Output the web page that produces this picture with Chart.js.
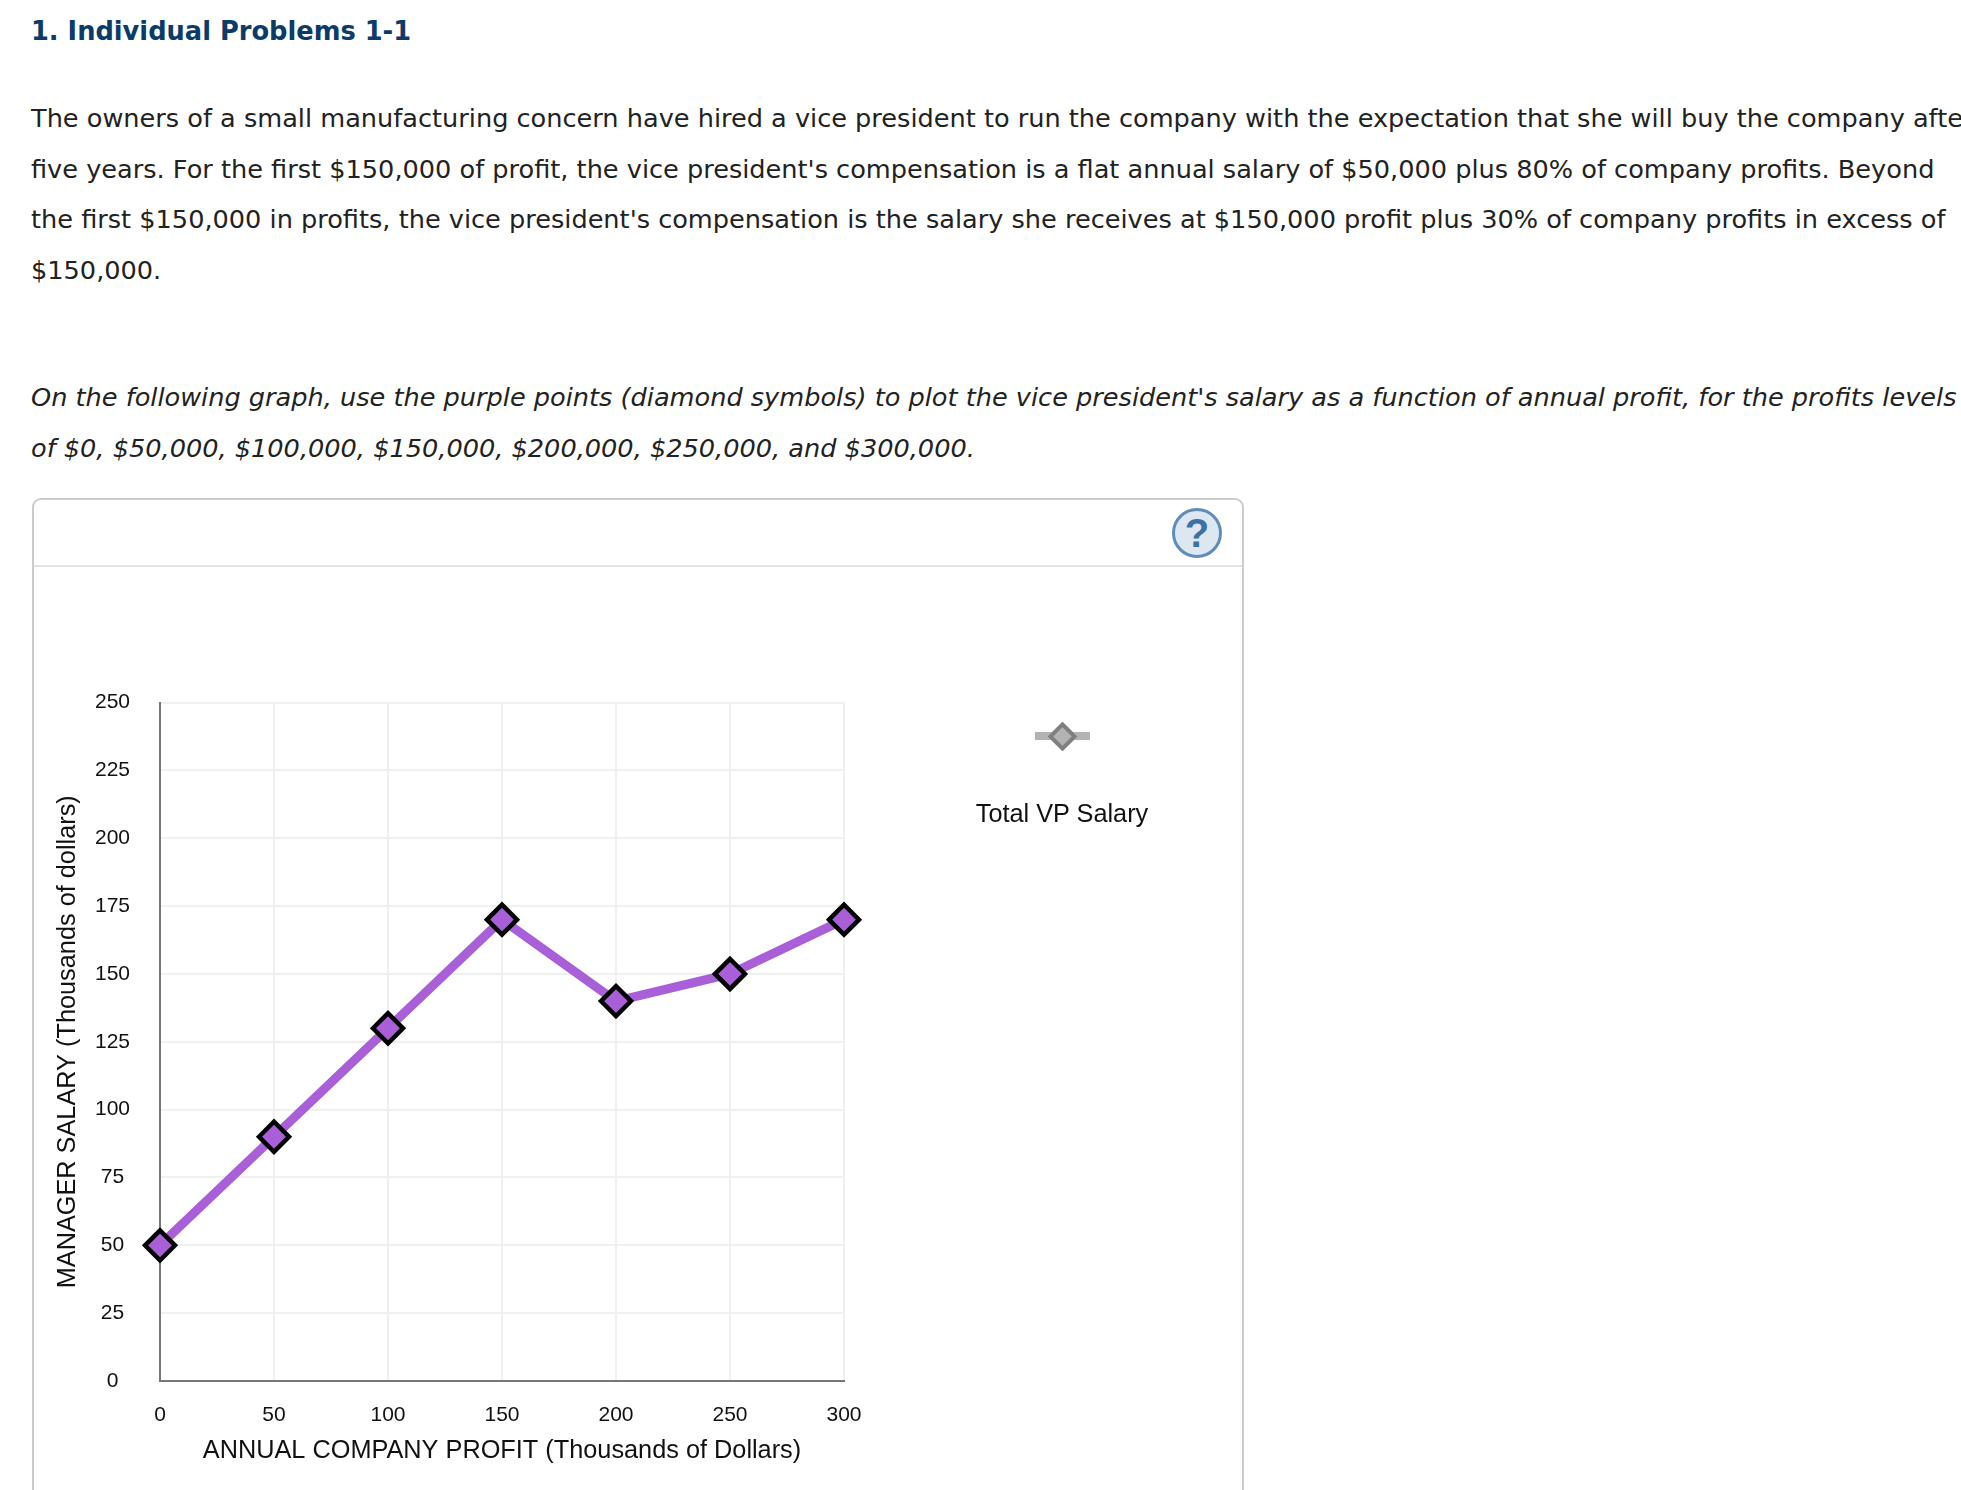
<!DOCTYPE html>
<html>
<head>
<meta charset="utf-8">
<script src="https://cdn.jsdelivr.net/npm/chart.js@4"></script>
<style>
  html, body { margin: 0; background: #fff; width: 1961px; height: 1490px; overflow: hidden; }
  .line { position: absolute; left: 31px; white-space: nowrap; font-family: "DejaVu Sans", sans-serif; font-size: 25.6px; color: #222; line-height: 30px; }
  .line.it { font-style: italic; }
  #heading { font-weight: bold; color: #0b3b68; font-size: 25.7px; }
  #panel { position: absolute; left: 32px; top: 498px; width: 1212px; height: 1100px; border: 2px solid #ccc; border-radius: 9px; box-sizing: border-box; }
  #headerRule { position: absolute; left: 34px; top: 565px; width: 1208px; height: 2px; background: #e4e4e4; }
  #help { position: absolute; left: 1172px; top: 508px; width: 50px; height: 50px; box-sizing: border-box; border: 3px solid #5f8db8; border-radius: 50%; background: #dde7f1; color: #3d70a6; font: bold 40px/44px "Liberation Sans", sans-serif; text-align: center; }
  #chartBox { position: absolute; left: 40px; top: 660px; }
  #legendBar { position: absolute; left: 1035px; top: 732px; width: 55px; height: 8px; background: #b3b3b3; }
  #legendMark { position: absolute; left: 1052px; top: 726px; width: 21px; height: 21px; box-sizing: border-box; background: #b3b3b3; border: 4px solid #808080; transform: rotate(45deg); }
  #legendText { position: absolute; left: 912px; top: 798px; width: 300px; text-align: center; font: 25.3px/30px "Liberation Sans", sans-serif; color: #111; }
</style>
</head>
<body>
<div class="line" id="heading" style="top:16px">1. Individual Problems 1-1</div>
<div class="line" style="top:103px">The owners of a small manufacturing concern have hired a vice president to run the company with the expectation that she will buy the company after</div>
<div class="line" style="top:154px">five years. For the first $150,000 of profit, the vice president's compensation is a flat annual salary of $50,000 plus 80% of company profits. Beyond</div>
<div class="line" style="top:204px">the first $150,000 in profits, the vice president's compensation is the salary she receives at $150,000 profit plus 30% of company profits in excess of</div>
<div class="line" style="top:255px">$150,000.</div>
<div class="line it" style="top:382px">On the following graph, use the purple points (diamond symbols) to plot the vice president's salary as a function of annual profit, for the profits levels</div>
<div class="line it" style="top:433px">of $0, $50,000, $100,000, $150,000, $200,000, $250,000, and $300,000.</div>

<div id="panel"></div>
<div id="headerRule"></div>
<div id="help">?</div>

<div id="chartBox"><canvas id="myChart" width="900" height="806"></canvas></div>

<div id="legendBar"></div>
<div id="legendMark"></div>
<div id="legendText">Total VP Salary</div>

<script>
const profits = [0, 50, 100, 150, 200, 250, 300];
const salaries = [50, 90, 130, 170, 140, 150, 170];
const xTicks = [0, 50, 100, 150, 200, 250, 300];
const yTicks = [0, 25, 50, 75, 100, 125, 150, 175, 200, 225, 250];
const seriesName = 'Total VP Salary';
const xTitle = 'ANNUAL COMPANY PROFIT (Thousands of Dollars)';
const yTitle = 'MANAGER SALARY (Thousands of dollars)';

const tickFont = { family: "'Liberation Sans', sans-serif", size: 21 };
const titleFont = { family: "'Liberation Sans', sans-serif", size: 25.3 };

// Canvas sits at (40, 660), plot area should land on x 160-844, y 695-1381
new Chart(document.getElementById('myChart').getContext('2d'), {
  type: 'line',
  data: {
    datasets: [{
      label: seriesName,
      data: profits.map((p, i) => ({ x: p, y: salaries[i] })),
      borderColor: '#a95fd8',
      borderWidth: 9,
      backgroundColor: '#a95fd8',
      pointStyle: 'rectRot',
      pointRadius: 15,
      pointBorderWidth: 4.5,
      pointBorderColor: '#000',
      pointBackgroundColor: '#a95fd8',
      tension: 0,
      clip: false
    }]
  },
  options: {
    responsive: false,
    animation: false,
    layout: { padding: { left: 0, top: 29, right: 96, bottom: 0 } },
    plugins: { legend: { display: false }, tooltip: { enabled: false } },
    scales: {
      x: {
        type: 'linear',
        min: 0,
        max: 300,
        afterBuildTicks: (axis) => { axis.ticks = xTicks.map((v) => ({ value: v })); },
        afterFit: (axis) => { axis.height = 85; },
        grid: { color: '#f0f0f0', lineWidth: 2, drawTicks: false },
        border: { color: '#777', width: 2 },
        ticks: { font: tickFont, color: '#111', padding: 22, maxRotation: 0 },
        title: { display: true, text: xTitle, font: titleFont, color: '#111', padding: { top: 8, bottom: 0 } }
      },
      y: {
        type: 'linear',
        min: 0,
        max: 250,
        afterBuildTicks: (axis) => { axis.ticks = yTicks.map((v) => ({ value: v })); },
        afterFit: (axis) => { axis.width = 120; },
        grid: { color: '#f0f0f0', lineWidth: 2, drawTicks: false },
        border: { color: '#777', width: 2 },
        ticks: { font: tickFont, color: '#111', padding: 30, crossAlign: 'center' },
        title: { display: true, text: yTitle, font: titleFont, color: '#111', padding: { top: 12.5, bottom: 0 } }
      }
    }
  }
});
</script>
</body>
</html>
